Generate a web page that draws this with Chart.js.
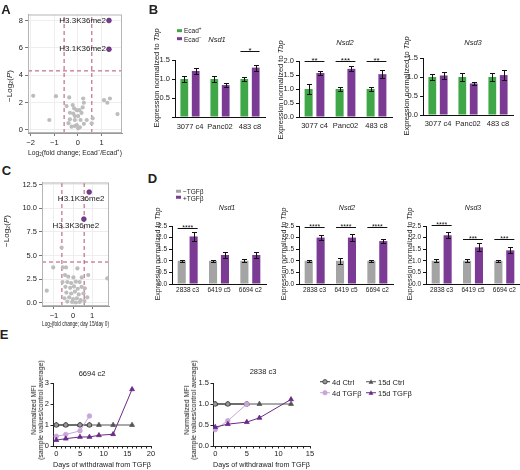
<!DOCTYPE html>
<html>
<head>
<meta charset="utf-8">
<script src="https://cdn.jsdelivr.net/npm/chart.js@4.4.1/dist/chart.umd.min.js"></script>
<style>
  body { margin: 0; width: 520px; height: 470px; position: relative; overflow: hidden; background: #fff;
         font-family: 'Liberation Sans', Arial, Helvetica, sans-serif; color: #222; }
  canvas { position: absolute; }
  .lbl { position: absolute; white-space: nowrap; line-height: 1; transform: translate(-50%, -50%); }
  .ylab { position: absolute; white-space: nowrap; line-height: 1.0; text-align: center; transform: translate(-50%, -50%) rotate(-90deg); }
  .letter { font-weight: bold; }
  .leg { position: absolute; white-space: nowrap; line-height: 1; transform: translateY(-50%); }
  .sw { display: inline-block; width: 5px; height: 3px; margin-right: 2px; vertical-align: middle; position: relative; top: -1px; }
  .leg svg { vertical-align: middle; margin-right: 2px; position: relative; top: -1px; }
</style>
</head>
<body>
<script>
// ============================================================
// Figure: NSD expression / H3K36me2 panels (A-E)
// every panel is its own small Chart.js canvas, placed by hand
// ============================================================

// ----- A: volcano, Ecad- vs Ecad+ -----
const aGrayX = [-1.89, -0.93, -1.21, -0.37, -0.48, -0.22, 0.22, 0.25, -0.16, -0.05, 0.06, 0.2, -0.34, -0.13,
                0.01, -0.34, -0.13, 0.11, -0.27, -0.13, -0.05, 0.01, 0.08, 0.37, 0.58, 0.62, 1.1, 1.24, 1.35,
                1.67, -0.2, 0.15, -0.4, 0.25];
const aGrayY = [2.5, 2.47, 0.73, 2.38, 1.75, 1.82, 2.3, 1.99, 1.58, 1.45, 1.45, 1.65, 1.26, 1.02,
                1.02, 0.78, 0.73, 0.73, 0.24, 0.29, 0.36, 0.12, 0.2, 0.73, 0.49, 0.85, 2.18, 1.99, 2.3,
                1.16, 1.2, 1.25, 0.5, 0.45];
const aHitX = [1.31, 1.31];
const aHitY = [8.0, 5.9];
const aHitNames = ['H3.3K36me2', 'H3.1K36me2'];

// ----- C: volcano, day 15 vs day 0 -----
const cGrayX = [-1.38, -1.04, -0.6, -0.54, -0.37, -0.42, -0.25, 0.02, 0.23, 0.8, 0.46, 1.8, -0.3, -0.1, 0.15,
                0.35, -0.4, -0.15, 0.05, 0.25, 0.45, 0.62, -0.35, -0.1, 0.1, 0.3, 0.55, -0.45, -0.2, 0.0,
                0.2, 0.4, -0.3, -0.05, 0.15, 0.35, 0.6, -0.55, 0.75];
const cGrayY = [1.3, 3.75, 5.85, 3.75, 3.75, 2.94, 2.77, 2.7, 3.64, 2.94, 2.7, 2.6, 2.2, 2.1, 2.25,
                2.2, 1.7, 1.6, 1.75, 1.5, 1.7, 1.55, 1.1, 1.0, 1.2, 0.9, 1.0, 0.5, 0.6, 0.4,
                0.5, 0.3, 0.15, 0.1, 0.05, 0.1, 0.2, 2.2, 0.6];
const cHitX = [0.85, 0.57];
const cHitY = [11.7, 8.85];
const cHitNames = ['H3.1K36me2', 'H3.3K36me2'];

// cut-offs (P = 0.05, 1.5-fold)
const pCut = 4.32;
const fcCut = 0.585;

// ----- B: Nsd1-3, Ecad+ vs Ecad- -----
const cellsB = ['3077 c4', 'Panc02', '483 c8'];
const bNsd1Pos = [1.0, 1.0, 1.0];     const bNsd1PosErr = [0.09, 0.08, 0.05];
const bNsd1Neg = [1.21, 0.84, 1.3];   const bNsd1NegErr = [0.09, 0.05, 0.08];
const bNsd1Sig = ['', '', '*'];
const bNsd2Pos = [1.0, 1.0, 1.0];     const bNsd2PosErr = [0.18, 0.07, 0.08];
const bNsd2Neg = [1.57, 1.72, 1.53];  const bNsd2NegErr = [0.06, 0.09, 0.15];
const bNsd2Sig = ['**', '***', '**'];
const bNsd3Pos = [1.0, 1.0, 1.0];     const bNsd3PosErr = [0.07, 0.1, 0.1];
const bNsd3Neg = [1.04, 0.83, 1.05];  const bNsd3NegErr = [0.1, 0.05, 0.14];
const bNsd3Sig = ['', '', ''];

// ----- D: Nsd1-3, -TGFb vs +TGFb -----
const cellsD = ['2838 c3', '6419 c5', '6694 c2'];
const dNsd1Minus = [1.0, 1.0, 1.0];   const dNsd1MinusErr = [0.05, 0.05, 0.07];
const dNsd1Plus = [2.05, 1.25, 1.25]; const dNsd1PlusErr = [0.2, 0.12, 0.15];
const dNsd1Sig = ['****', '', ''];
const dNsd2Minus = [1.0, 1.0, 1.0];   const dNsd2MinusErr = [0.04, 0.12, 0.04];
const dNsd2Plus = [2.0, 2.0, 1.85];   const dNsd2PlusErr = [0.1, 0.15, 0.1];
const dNsd2Sig = ['****', '****', '****'];
const dNsd3Minus = [1.0, 1.0, 1.0];   const dNsd3MinusErr = [0.06, 0.06, 0.04];
const dNsd3Plus = [2.1, 1.58, 1.45];  const dNsd3PlusErr = [0.12, 0.17, 0.13];
const dNsd3Sig = ['****', '***', '***'];

// ----- E: normalized MFI after TGFb withdrawal -----
const e6694Days4d = [0, 2, 5, 7];
const e6694Ctrl4d = [1, 1, 1, 1];
const e6694Tgfb4d = [0.46, 0.55, 0.72, 1.43];
const e6694Days15d = [0, 2, 5, 7, 9, 12, 16];
const e6694Ctrl15d = [1, 1, 1, 1, 1, 1, 1];
const e6694Tgfb15d = [0.28, 0.35, 0.43, 0.43, 0.51, 0.56, 2.7];

const e2838Days4d = [0, 2, 5];
const e2838Ctrl4d = [1, 1, 1];
const e2838Tgfb4d = [0.39, 0.6, 1.0];
const e2838Days15d = [0, 2, 5, 7, 12];
const e2838Ctrl15d = [1, 1, 1, 1, 1];
const e2838Tgfb15d = [0.45, 0.52, 0.57, 0.67, 1.11];

// ----- colours -----
const GREEN = '#3fa748', PURPLE = '#7b3b95', GREY = '#a4a4a4';
const FONT = "'Liberation Sans', Arial, Helvetica, sans-serif";

Chart.defaults.font.family = FONT;
Chart.defaults.font.size = 7.5;
Chart.defaults.color = '#222';
Chart.defaults.animation = false;
Chart.defaults.responsive = false;
Chart.defaults.plugins.legend.display = false;
Chart.defaults.plugins.tooltip.enabled = false;

// canvas placed so that the plot area lands on area (page px)
function makeCanvas(area, yw, xh, padT, padR) {
    const el = document.createElement('canvas');
    el.width = area.r - area.l + yw + padR;
    el.height = area.b - area.t + padT + xh;
    el.style.left = (area.l - yw) + 'px';
    el.style.top = (area.t - padT) + 'px';
    document.body.appendChild(el);
    return { el: el, yw: yw, xh: xh, padding: { top: padT, right: padR, bottom: 0, left: 0 } };
}

// html text, centred on (x, y)
function put(html, x, y, size, cls) {
    const d = document.createElement('div');
    d.className = cls || 'lbl';
    d.style.left = x + 'px';
    d.style.top = y + 'px';
    d.style.fontSize = size + 'px';
    d.innerHTML = html;
    document.body.appendChild(d);
    return d;
}

const minus = v => (v < 0 ? '\u2212' + Math.abs(v) : '' + v);

// ----- plugins -----
const errorBars = {
    id: 'errorBars',
    afterDatasetsDraw(chart) {
        const ctx = chart.ctx, ys = chart.scales.y;
        ctx.save();
        ctx.strokeStyle = '#111';
        ctx.lineWidth = 1;
        chart.data.datasets.forEach(function (ds, i) {
            chart.getDatasetMeta(i).data.forEach(function (bar, j) {
                const x = Math.round(bar.x) + 0.5;
                const hi = Math.round(ys.getPixelForValue(ds.data[j] + ds.errors[j])) + 0.5;
                const lo = Math.round(ys.getPixelForValue(ds.data[j] - ds.errors[j])) + 0.5;
                ctx.beginPath();
                ctx.moveTo(x, hi); ctx.lineTo(x, lo);
                ctx.moveTo(x - 2.5, hi); ctx.lineTo(x + 2.5, hi);
                ctx.moveTo(x - 2.5, lo); ctx.lineTo(x + 2.5, lo);
                ctx.stroke();
            });
        });
        ctx.restore();
    }
};

const sigBrackets = {
    id: 'sig',
    afterDatasetsDraw(chart, args, opts) {
        if (!opts.marks) return;
        const ctx = chart.ctx, ys = chart.scales.y;
        const a = chart.getDatasetMeta(0).data, b = chart.getDatasetMeta(1).data;
        ctx.save();
        ctx.strokeStyle = '#111';
        ctx.fillStyle = '#111';
        ctx.lineWidth = 1;
        ctx.font = opts.size + 'px ' + FONT;
        ctx.textAlign = 'center';
        ctx.textBaseline = 'alphabetic';
        opts.marks.forEach(function (m, j) {
            if (!m) return;
            const y = Math.round(ys.getPixelForValue(opts.levels[j])) + 0.5;
            const x0 = a[j].x - a[j].width / 2, x1 = b[j].x + b[j].width / 2;
            ctx.beginPath(); ctx.moveTo(x0, y); ctx.lineTo(x1, y); ctx.stroke();
            ctx.fillText(m, (x0 + x1) / 2, y + 1);
        });
        ctx.restore();
    }
};

const volcanoDecor = {
    id: 'volc',
    afterDatasetsDraw(chart, args, opts) {
        const ctx = chart.ctx, ca = chart.chartArea, xs = chart.scales.x, ys = chart.scales.y;
        ctx.save();
        ctx.strokeStyle = '#b5b5b5';
        ctx.lineWidth = 1;
        ctx.strokeRect(ca.left + 0.5, ca.top + 0.5, ca.width - 1, ca.height - 1);
        ctx.font = '8px ' + FONT;
        ctx.fillStyle = '#222';
        ctx.textAlign = opts.align;
        ctx.textBaseline = 'middle';
        opts.names.forEach(function (n, i) {
            ctx.fillText(n, xs.getPixelForValue(opts.xs[i]) + opts.dx, ys.getPixelForValue(opts.ys[i]) + opts.dy);
        });
        ctx.restore();
    }
};

// y tick text for panel E, written next to the scale's own ticks
const yTickText = {
    id: 'yTickText',
    afterDraw(chart, args, opts) {
        const ctx = chart.ctx, ys = chart.scales.y, left = chart.chartArea.left;
        ctx.save();
        ctx.font = '7.5px ' + FONT;
        ctx.fillStyle = '#222';
        ctx.textAlign = 'right';
        ctx.textBaseline = 'middle';
        ys.ticks.forEach(function (t) {
            ctx.fillText(t.value.toFixed(opts.dec), left - 4, ys.getPixelForValue(t.value));
        });
        ctx.restore();
    }
};

// ----- builders -----
function barChart(area, cats, first, second, yMax, yStep, sig, font, tickPad, hideZero) {
    const cv = makeCanvas(area, 20, 16, 22, 4);
    new Chart(cv.el, {
        type: 'bar',
        data: {
            labels: cats,
            datasets: [first, second].map(function (s) {
                return { data: s.values, errors: s.errors, backgroundColor: s.color,
                         categoryPercentage: 0.76, barPercentage: 0.68 };
            })
        },
        options: {
            layout: { padding: cv.padding, autoPadding: false },
            scales: {
                x: {
                    grid: { display: false, drawTicks: false },
                    border: { color: '#111' },
                    ticks: { padding: tickPad, maxRotation: 0, autoSkip: false, font: { size: font } },
                    afterFit: function (s) { s.height = cv.xh; }
                },
                y: {
                    min: 0, max: yMax,
                    ticks: { stepSize: yStep, padding: 2, font: { size: font },
                             callback: v => (hideZero && v === 0 ? '' : v.toFixed(1)) },
                    grid: { drawOnChartArea: false, tickLength: 3, tickColor: '#111' },
                    border: { color: '#111' },
                    afterFit: function (s) { s.width = cv.yw; }
                }
            },
            plugins: { sig: sig }
        },
        plugins: [errorBars, sigBrackets]
    });
}

function volcano(area, xr, yr, yStep, yDec, gx, gy, hx, hy, names, lab, xTitle, xh) {
    const cv = makeCanvas(area, 24, xh, 6, 4);
    const pts = (xs, ys) => xs.map((v, i) => ({ x: v, y: ys[i] }));
    const cut = (x0, y0, x1, y1) => ({ type: 'line', data: [{ x: x0, y: y0 }, { x: x1, y: y1 }],
        borderColor: '#b5506f', borderWidth: 1, borderDash: [4, 3], pointRadius: 0, showLine: true });
    new Chart(cv.el, {
        type: 'scatter',
        data: {
            datasets: [
                { data: pts(hx, hy), pointRadius: 2.4, backgroundColor: '#7b3b95', borderColor: '#4a1f5c', borderWidth: 0.6 },
                { data: pts(gx, gy), pointRadius: 2.1, backgroundColor: '#bdbdbd', borderWidth: 0 },
                cut(xr[0], pCut, xr[1], pCut),
                cut(-fcCut, yr[0], -fcCut, yr[1]),
                cut(fcCut, yr[0], fcCut, yr[1])
            ]
        },
        options: {
            layout: { padding: cv.padding, autoPadding: false },
            scales: {
                x: {
                    type: 'linear', min: xr[0], max: xr[1],
                    ticks: { stepSize: 1, includeBounds: false, padding: 2, callback: minus },
                    grid: { color: '#eeeeee', tickColor: '#777', tickLength: 3 },
                    border: { color: '#999' },
                    title: { display: true, text: xTitle, font: { size: 8 }, padding: { top: 0, bottom: 2 } },
                    afterFit: function (s) { s.height = cv.xh; }
                },
                y: {
                    min: yr[0], max: yr[1],
                    ticks: { stepSize: yStep, includeBounds: false, padding: 2, callback: v => v.toFixed(yDec) },
                    grid: { color: '#eeeeee', tickColor: '#777', tickLength: 3 },
                    border: { color: '#999' },
                    afterFit: function (s) { s.width = cv.yw; }
                }
            },
            plugins: { volc: { names: names, xs: hx, ys: hy, align: lab.align, dx: lab.dx, dy: lab.dy } }
        },
        plugins: [volcanoDecor]
    });
}

function withdrawal(area, xMin, xMax, yMax, yStep, yDec, d4, c4, t4, d15, c15, t15) {
    const cv = makeCanvas(area, 18, 25, 6, 6);
    const pts = (xs, ys) => xs.map((v, i) => ({ x: v, y: ys[i] }));
    const line = (data, col, shape, fill) => ({ data: data, borderColor: col, pointBackgroundColor: fill || col,
        pointBorderColor: col, pointStyle: shape, pointRadius: shape === 'triangle' ? 2.8 : 2.3,
        pointBorderWidth: 0.8, borderWidth: 1 });
    new Chart(cv.el, {
        type: 'line',
        data: {
            datasets: [
                line(pts(d15, t15), '#6a2a86', 'triangle'),
                line(pts(d4, t4), '#c9a5d9', 'circle'),
                line(pts(d4, c4), '#333', 'circle', '#9a9a9a'),
                line(pts(d15, c15), '#555', 'triangle')
            ]
        },
        options: {
            layout: { padding: cv.padding, autoPadding: false },
            scales: {
                x: {
                    type: 'linear', min: xMin, max: xMax,
                    ticks: { stepSize: 1, includeBounds: false, autoSkip: false, maxRotation: 0, padding: 1,
                             font: { size: 7.5 }, callback: v => (v % 5 === 0 ? v : '') },
                    grid: { drawOnChartArea: false, tickLength: 2.5, tickColor: '#222' },
                    border: { color: '#222' },
                    title: { display: true, text: 'Days of withdrawal from TGF\u03b2', font: { size: 7.5 },
                             padding: { top: 0, bottom: 2 } },
                    afterFit: function (s) { s.height = cv.xh; }
                },
                y: {
                    min: 0, max: yMax,
                    ticks: { stepSize: yStep, display: false },
                    grid: { drawOnChartArea: false, tickLength: 2.5, tickColor: '#222' },
                    border: { color: '#222' },
                    afterFit: function (s) { s.width = cv.yw; }
                }
            },
            plugins: { yTickText: { dec: yDec } }
        },
        plugins: [yTickText]
    });
}

// ----- A -----
volcano({ l: 28, t: 14, r: 122, b: 133 }, [-2.11, 1.86], [-0.22, 8.44], 2, 0,
        aGrayX, aGrayY, aHitX, aHitY, aHitNames, { align: 'right', dx: -3, dy: 0 },
        'Log\u2082(fold change; Ecad\u207b/Ecad\u207a)', 27);

// ----- C -----
volcano({ l: 42, t: 182, r: 109, b: 306 }, [-1.63, 1.89], [-0.32, 12.71], 2.5, 1,
        cGrayX, cGrayY, cHitX, cHitY, cHitNames, { align: 'center', dx: -8, dy: 7 },
        'Log\u2082(fold change; day 15/day 0)', 25);

// ----- B -----
barChart({ l: 175, t: 60, r: 265, b: 117 }, cellsB,
         { values: bNsd1Pos, errors: bNsd1PosErr, color: GREEN }, { values: bNsd1Neg, errors: bNsd1NegErr, color: PURPLE },
         1.5, 0.5, { marks: bNsd1Sig, levels: [0, 0, 1.74], size: 8 }, 7.5, 5, true);
barChart({ l: 299, t: 61, r: 392, b: 117 }, cellsB,
         { values: bNsd2Pos, errors: bNsd2PosErr, color: GREEN }, { values: bNsd2Neg, errors: bNsd2NegErr, color: PURPLE },
         2.0, 0.5, { marks: bNsd2Sig, levels: [2.0, 2.0, 2.0], size: 8 }, 7.5, 4, false);
barChart({ l: 423, t: 58, r: 513, b: 115 }, cellsB,
         { values: bNsd3Pos, errors: bNsd3PosErr, color: GREEN }, { values: bNsd3Neg, errors: bNsd3NegErr, color: PURPLE },
         1.5, 0.5, { marks: bNsd3Sig, levels: [0, 0, 0], size: 8 }, 7.5, 4, false);

// ----- D -----
barChart({ l: 172, t: 226, r: 266, b: 284 }, cellsD,
         { values: dNsd1Minus, errors: dNsd1MinusErr, color: GREY }, { values: dNsd1Plus, errors: dNsd1PlusErr, color: PURPLE },
         2.5, 0.5, { marks: dNsd1Sig, levels: [2.43, 0, 0], size: 7 }, 6.5, 2, false);
barChart({ l: 299, t: 226, r: 393, b: 284 }, cellsD,
         { values: dNsd2Minus, errors: dNsd2MinusErr, color: GREY }, { values: dNsd2Plus, errors: dNsd2PlusErr, color: PURPLE },
         2.5, 0.5, { marks: dNsd2Sig, levels: [2.45, 2.45, 2.45], size: 7 }, 6.5, 2, false);
barChart({ l: 426, t: 226, r: 520, b: 284 }, cellsD,
         { values: dNsd3Minus, errors: dNsd3MinusErr, color: GREY }, { values: dNsd3Plus, errors: dNsd3PlusErr, color: PURPLE },
         2.5, 0.5, { marks: dNsd3Sig, levels: [2.53, 1.93, 1.93], size: 7 }, 6.5, 2, false);

// ----- E -----
withdrawal({ l: 53, t: 383, r: 151, b: 446 }, -0.7, 20, 3, 1, 0,
           e6694Days4d, e6694Ctrl4d, e6694Tgfb4d, e6694Days15d, e6694Ctrl15d, e6694Tgfb15d);
withdrawal({ l: 213, t: 383, r: 310, b: 446 }, -0.35, 15, 1.5, 0.5, 1,
           e2838Days4d, e2838Ctrl4d, e2838Tgfb4d, e2838Days15d, e2838Ctrl15d, e2838Tgfb15d);

// ----- text: panel letters, titles, axis titles, legends -----
put('A', 6, 8.5, 13, 'lbl letter');
put('B', 153.5, 9, 13, 'lbl letter');
put('C', 6.5, 170, 13, 'lbl letter');
put('D', 152.5, 177.5, 13, 'lbl letter');
put('E', 4, 334, 13, 'lbl letter');

put('\u2212Log\u2082(<i>P</i>)', 9.5, 86, 8, 'ylab');
put('\u2212Log\u2082(<i>P</i>)', 7, 231, 8, 'ylab');

const yExpr = 'Expression normalized to <i>Tbp</i>';
put(yExpr, 157, 78, 7.5, 'ylab');
put(yExpr, 281, 90, 7.5, 'ylab');
put(yExpr, 407, 86, 7.5, 'ylab');
put(yExpr, 157, 254, 7, 'ylab');
put(yExpr, 283, 254, 7, 'ylab');
put(yExpr, 409, 254, 7, 'ylab');

put('<i>Nsd1</i>', 217, 40, 7.5);
put('<i>Nsd2</i>', 345, 43, 7.5);
put('<i>Nsd3</i>', 473, 43, 7.5);
put('<i>Nsd1</i>', 227, 207, 7);
put('<i>Nsd2</i>', 347, 207, 7);
put('<i>Nsd3</i>', 473, 207, 7);

put('<span class="sw" style="background:' + GREEN + '"></span>Ecad<sup style="font-size:4.5px">+</sup>', 177, 31, 6.5, 'leg');
put('<span class="sw" style="background:' + PURPLE + '"></span>Ecad<sup style="font-size:4.5px">\u2212</sup>', 177, 39.5, 6.5, 'leg');
put('<span class="sw" style="background:' + GREY + '"></span>\u2212TGF\u03b2', 176, 192, 6.5, 'leg');
put('<span class="sw" style="background:' + PURPLE + '"></span>+TGF\u03b2', 176, 198.5, 6.5, 'leg');

put('6694 c2', 92, 374, 7.5);
put('2838 c3', 263, 372, 7.5);
put('Normalized MFI<br>(sample values/control average)', 37, 410, 7, 'ylab');
put('Normalized MFI<br>(sample values/control average)', 190, 410, 7, 'ylab');

// legend marker for panel E: short line with a circle or triangle
function marker(col, shape, fill) {
    const sym = shape === 'circle'
        ? '<circle cx="5" cy="3.5" r="2.2" fill="' + (fill || col) + '" stroke="' + col + '" stroke-width="0.8"/>'
        : '<polygon points="5,1 7.4,5.4 2.6,5.4" fill="' + col + '"/>';
    return '<svg width="10" height="7"><line x1="0" y1="3.5" x2="10" y2="3.5" stroke="' + col + '" stroke-width="1"/>' + sym + '</svg>';
}
put(marker('#333', 'circle', '#9a9a9a') + '4d Ctrl', 320, 382.5, 7.5, 'leg');
put(marker('#555', 'triangle') + '15d Ctrl', 366, 382.5, 7.5, 'leg');
put(marker('#c9a5d9', 'circle') + '4d TGF\u03b2', 320, 393.5, 7.5, 'leg');
put(marker('#6a2a86', 'triangle') + '15d TGF\u03b2', 366, 393.5, 7.5, 'leg');
</script>
</body>
</html>
